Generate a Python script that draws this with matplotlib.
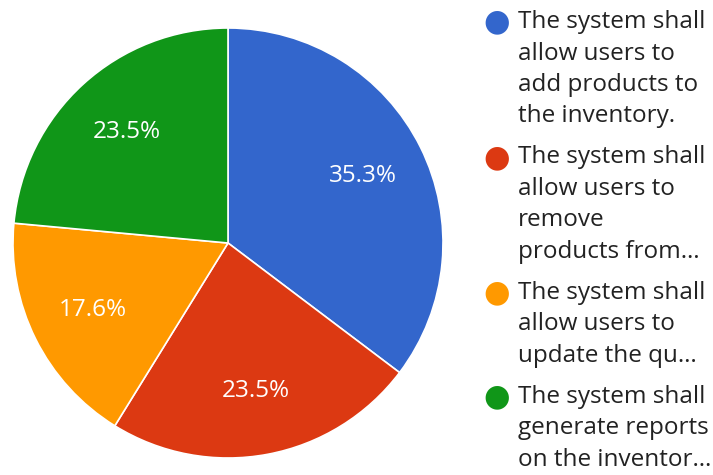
import matplotlib.pyplot as plt

labels = [
    "The system shall\nallow users to\nadd products to\nthe inventory.",
    "The system shall\nallow users to\nremove\nproducts from…",
    "The system shall\nallow users to\nupdate the qu…",
    "The system shall\ngenerate reports\non the inventor…",
]
counts = [6, 4, 3, 4]
colors = ["#3366CC", "#DC3912", "#FF9900", "#109618"]

plt.rcParams['font.family'] = ['Open Sans', 'DejaVu Sans']

fig = plt.figure(figsize=(7.13, 4.75), dpi=100)
W, H = 713, 475
cx, cy, r = 228, 243, 215
ax = fig.add_axes([(cx - r) / W, (H - cy - r) / H, 2 * r / W, 2 * r / H])
wedges, texts, autotexts = ax.pie(
    counts, colors=colors, startangle=90, counterclock=False,
    autopct='%1.1f%%', pctdistance=0.7,
    wedgeprops=dict(edgecolor='white', linewidth=1.2),
    textprops=dict(color='white', fontsize=17.5),
)
ax.set_xlim(-1, 1)
ax.set_ylim(-1, 1)
ax.set_aspect('equal')

# legend drawn by hand
line_h = 31.5
gap = 41
y = 22
for lab, col in zip(labels, colors):
    fig.text(497 / W, 1 - y / H, "●", color=col, fontsize=22, ha='center', va='center',
             family='DejaVu Sans')
    for i, line in enumerate(lab.split("\n")):
        fig.text(518 / W, 1 - (y + i * line_h) / H, line, fontsize=17.5,
                 color='#222222', ha='left', va='center')
    y += (len(lab.split("\n")) - 1) * line_h + gap

fig.savefig("out.png", dpi=100)
